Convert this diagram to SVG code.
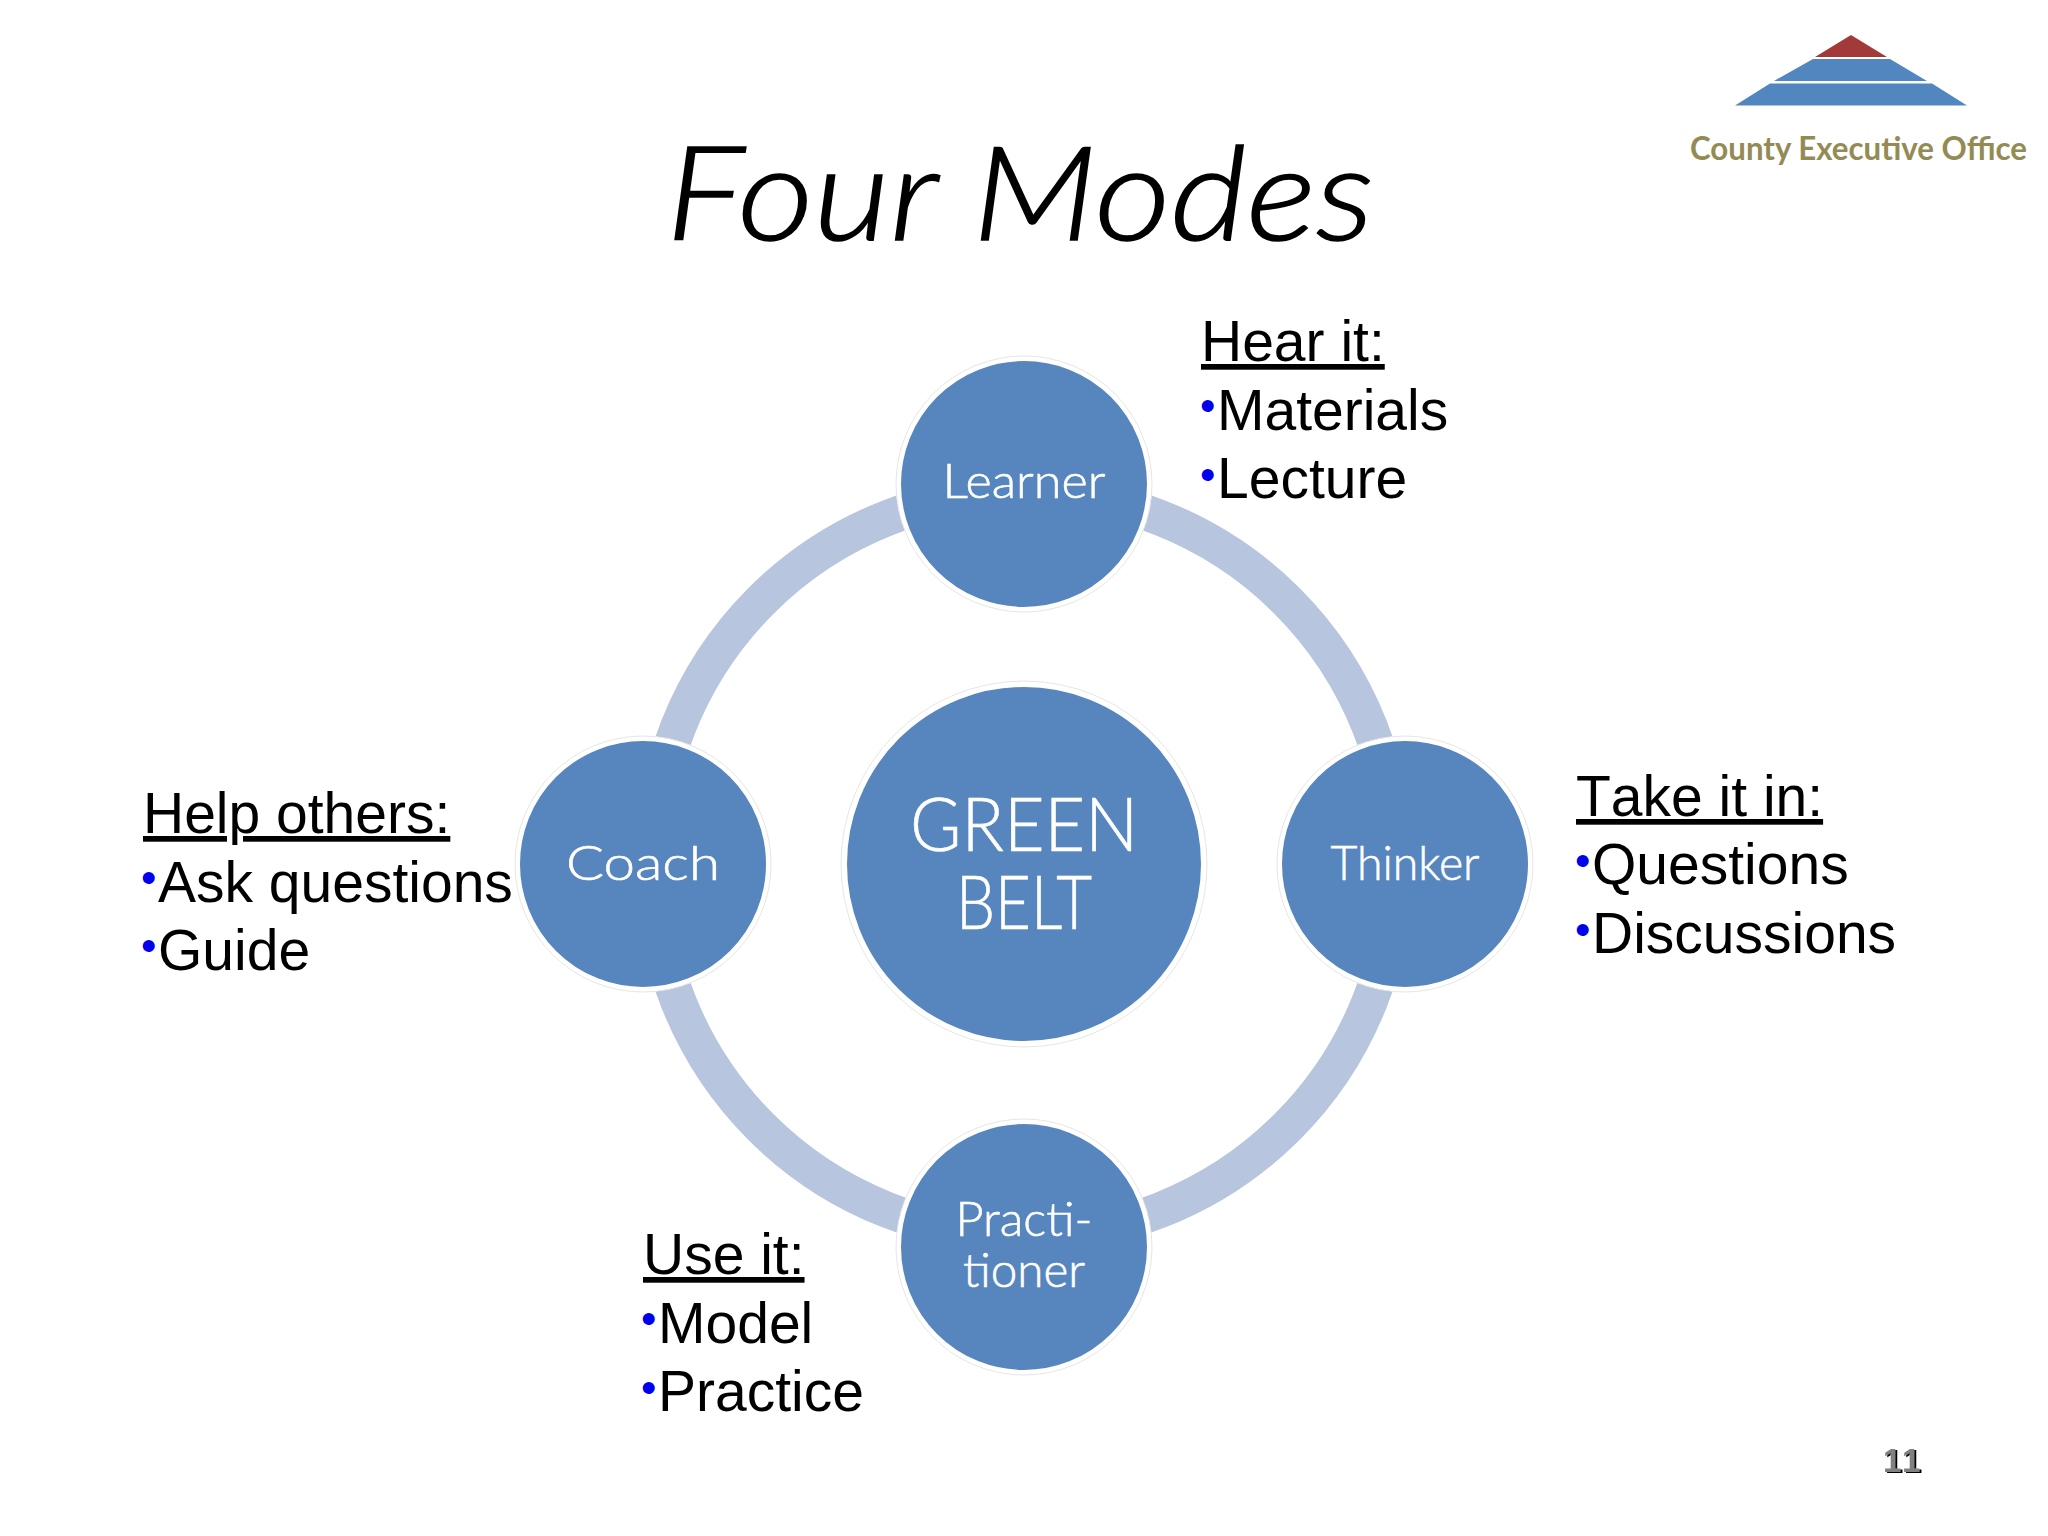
<svg xmlns="http://www.w3.org/2000/svg" width="2048" height="1536" viewBox="0 0 2048 1536">
<defs>
<style>
.node{fill:#5786bf;stroke:#fff;stroke-width:4}
.halo{fill:#fff;stroke:#e6e6e6;stroke-width:1}
.lab{font-family:"Lato","Liberation Sans",sans-serif;font-weight:300;fill:#fff;stroke:#fff;stroke-width:0.6;text-anchor:middle}
.t{font-family:"Liberation Sans",Arial,sans-serif;font-size:57px;fill:#000;font-kerning:none}
.h{text-decoration:underline}
.b{font-family:"Liberation Sans",Arial,sans-serif;font-size:44px;fill:#0000ee}
</style>
<filter id="sh" x="-20%" y="-20%" width="140%" height="140%"><feDropShadow dx="2" dy="1" stdDeviation="0.3" flood-color="#000"/></filter>
</defs>
<rect width="2048" height="1536" fill="#fff"/>
<g id="logo">
<polygon points="1851,35 1887,57 1815,57" fill="#a23a3a"/>
<polygon points="1813,59 1890,59 1927,81 1774,81" fill="#5286bf"/>
<polygon points="1770,83.500 1932,83.500 1967,105.500 1735,105.500" fill="#5286bf"/>
<text x="1690" y="160" font-family="Lato,'Liberation Sans',sans-serif" font-weight="700" font-size="33" fill="#948b54" textLength="337" lengthAdjust="spacingAndGlyphs">County Executive Office</text>
</g>
<text id="title" x="666" y="240" font-family="Lato,'Liberation Sans',sans-serif" font-style="italic" font-weight="300" font-size="130" fill="#000" stroke="#000" stroke-width="1.5" textLength="708" lengthAdjust="spacingAndGlyphs">Four Modes</text>
<g id="connectors">
<circle cx="1024" cy="864" r="372" fill="none" stroke="#b7c5de" stroke-width="36"/>
</g>
<g id="node-center"><circle class="halo" cx="1024" cy="864" r="183"/><circle class="node" cx="1024" cy="864" r="179"/>
<text class="lab" x="1024" y="851" font-size="74" textLength="228" lengthAdjust="spacingAndGlyphs">GREEN</text><text class="lab" x="1024" y="929" font-size="74" textLength="136" lengthAdjust="spacingAndGlyphs">BELT</text></g>
<g id="node-learner"><circle class="halo" cx="1024" cy="484" r="128"/><circle class="node" cx="1024" cy="484" r="125"/>
<text class="lab" x="1024" y="498" font-size="48" textLength="163" lengthAdjust="spacingAndGlyphs">Learner</text></g>
<g id="node-thinker"><circle class="halo" cx="1405" cy="864" r="128"/><circle class="node" cx="1405" cy="864" r="125"/>
<text class="lab" x="1405" y="880" font-size="48" textLength="149" lengthAdjust="spacingAndGlyphs">Thinker</text></g>
<g id="node-practitioner"><circle class="halo" cx="1024" cy="1247" r="128"/><circle class="node" cx="1024" cy="1247" r="125"/>
<text class="lab" x="1024" y="1236" font-size="48" textLength="137" lengthAdjust="spacingAndGlyphs">Practi-</text><text class="lab" x="1024" y="1287" font-size="48" textLength="122" lengthAdjust="spacingAndGlyphs">tioner</text></g>
<g id="node-coach"><circle class="halo" cx="643" cy="864" r="128"/><circle class="node" cx="643" cy="864" r="125"/>
<text class="lab" x="643" y="880" font-size="48" textLength="154" lengthAdjust="spacingAndGlyphs">Coach</text></g>
<g id="note-hear">
<text class="t h" x="1201" y="361">Hear it:</text>
<text class="b" x="1200" y="421">•</text><text class="t" x="1217" y="430">Materials</text>
<text class="b" x="1200" y="490">•</text><text class="t" x="1217" y="498">Lecture</text>
</g>
<g id="note-take">
<text class="t h" x="1576" y="816">Take it in:</text>
<text class="b" x="1575" y="876">•</text><text class="t" x="1592" y="884">Questions</text>
<text class="b" x="1575" y="945">•</text><text class="t" x="1592" y="953">Discussions</text>
</g>
<g id="note-help">
<text class="t h" x="143" y="833">Help others:</text>
<text class="b" x="141" y="893">•</text><text class="t" x="158" y="902">Ask questions</text>
<text class="b" x="141" y="961">•</text><text class="t" x="158" y="970">Guide</text>
</g>
<g id="note-use">
<text class="t h" x="643" y="1274">Use it:</text>
<text class="b" x="641" y="1334">•</text><text class="t" x="658" y="1343">Model</text>
<text class="b" x="641" y="1403">•</text><text class="t" x="658" y="1411">Practice</text>
</g>
<text id="page" x="1883" y="1472" font-family="'Liberation Sans',sans-serif" font-weight="700" font-size="33" fill="#808080" letter-spacing="2.500" filter="url(#sh)">11</text>
</svg>
